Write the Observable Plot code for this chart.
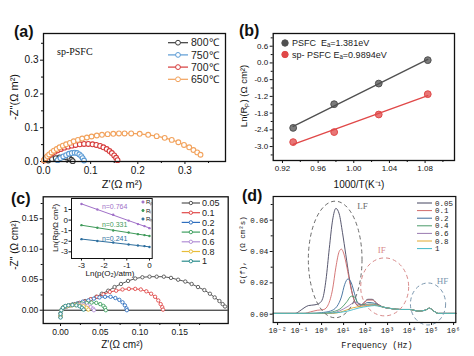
<!DOCTYPE html>
<html><head><meta charset="utf-8">
<script src="https://cdn.jsdelivr.net/npm/d3@7"></script>
<script src="https://cdn.jsdelivr.net/npm/@observablehq/plot@0.6"></script>
<style>
body{margin:0;background:#fff;}
#wrap{position:relative;width:474px;height:356px;overflow:hidden;background:#fff;}
</style></head><body><div id="wrap"></div>
<script>
// ================= DATA =================
// (a) Nyquist, sp-PSFC
const aTemps = ["800℃","750℃","700℃","650℃"];
const aColors = ["#3a3a3a","#5b9bd5","#d63b3b","#f2a25c"];
const a800 = [[0.010,0.003],[0.018,0.007],[0.026,0.010],[0.034,0.012],[0.042,0.013],[0.049,0.012],[0.055,0.009],[0.059,0.005],[0.062,0.001]];
const a750 = [[0.030,0.004],[0.036,0.010],[0.042,0.015],[0.048,0.019],[0.054,0.023],[0.060,0.025],[0.066,0.026],[0.071,0.025],[0.076,0.021],[0.080,0.016],[0.083,0.010],[0.086,0.003]];
const a700 = [[0.001,0.003],[0.004,0.009],[0.008,0.014],[0.013,0.019],[0.018,0.024],[0.024,0.029],[0.030,0.033],[0.037,0.037],[0.044,0.041],[0.052,0.044],[0.060,0.047],[0.068,0.049],[0.077,0.051],[0.086,0.052],[0.095,0.052],[0.104,0.051],[0.112,0.049],[0.120,0.046],[0.127,0.042],[0.134,0.037],[0.140,0.031],[0.145,0.025],[0.150,0.018],[0.154,0.011],[0.157,0.004]];
const a650 = [[0.001,0.004],[0.004,0.010],[0.008,0.016],[0.012,0.021],[0.017,0.027],[0.022,0.032],[0.028,0.037],[0.034,0.042],[0.041,0.047],[0.048,0.051],[0.056,0.055],[0.064,0.060],[0.073,0.064],[0.082,0.068],[0.092,0.071],[0.102,0.074],[0.113,0.077],[0.124,0.079],[0.136,0.081],[0.148,0.082],[0.160,0.083],[0.172,0.083],[0.186,0.083],[0.204,0.082],[0.222,0.079],[0.240,0.075],[0.257,0.070],[0.272,0.064],[0.286,0.057],[0.298,0.049],[0.309,0.042],[0.318,0.034],[0.326,0.027],[0.333,0.020]];
const aXTicks = [0,0.1,0.2,0.3];
const aYTicks = [0,0.1,0.2,0.3];

// (b) Arrhenius
const bInvT = [0.932, 0.978, 1.028, 1.083];
const bPSFC = [-2.33, -1.48, -0.74, 0.10];
const bSp = [-2.84, -2.48, -1.85, -1.12];
const bSeries = ["PSFC","sp-PSFC"];
const bLegend = ["PSFC  Eₐ=1.381eV", "sp- PSFC Eₐ=0.9894eV"];
const bColors = ["#505050","#e04848"];
const bXTicks = [0.92,0.96,1.00,1.04,1.08];
const bYTicks = [-3.0,-2.4,-1.8,-1.2,-0.6,0.0,0.6];

// (c) Nyquist vs pO2
const cP = ["0.05","0.1","0.2","0.4","0.6","0.8","1"];
const cColors = ["#555555","#e04848","#2f6fbf","#3fa060","#b28fd6","#e8bd3a","#2a8c8c"];
const c005 = [[0.0,-0.011],[0.0,-0.005],[0.001,0.0],[0.003,0.004],[0.007,0.006],[0.012,0.008],[0.018,0.010],[0.024,0.012],[0.031,0.015],[0.038,0.018],[0.045,0.022],[0.052,0.027],[0.060,0.032],[0.068,0.038],[0.076,0.043],[0.085,0.048],[0.094,0.052],[0.103,0.054],[0.112,0.055],[0.121,0.055],[0.130,0.055],[0.139,0.053],[0.148,0.050],[0.157,0.047],[0.165,0.043],[0.173,0.038],[0.181,0.033],[0.188,0.027],[0.194,0.021],[0.200,0.015],[0.204,0.010],[0.207,0.006]];
const c01 = [[0.0,-0.010],[0.001,0.0],[0.004,0.005],[0.009,0.007],[0.015,0.009],[0.022,0.011],[0.030,0.014],[0.038,0.018],[0.046,0.022],[0.054,0.026],[0.062,0.030],[0.070,0.032],[0.078,0.034],[0.086,0.035],[0.094,0.035],[0.101,0.034],[0.108,0.031],[0.114,0.027],[0.119,0.022],[0.123,0.016],[0.126,0.010],[0.128,0.005],[0.129,0.001]];
const c02 = [[0.0,-0.010],[0.001,0.0],[0.004,0.005],[0.009,0.007],[0.015,0.009],[0.021,0.011],[0.028,0.014],[0.035,0.016],[0.042,0.019],[0.049,0.021],[0.056,0.022],[0.063,0.022],[0.069,0.020],[0.074,0.017],[0.078,0.013],[0.081,0.008],[0.083,0.003],[0.0835,0.0]];
const c04 = [[0.0,-0.010],[0.001,0.0],[0.004,0.005],[0.009,0.007],[0.015,0.009],[0.021,0.010],[0.027,0.011],[0.033,0.012],[0.039,0.0125],[0.045,0.012],[0.050,0.010],[0.054,0.007],[0.056,0.004],[0.057,0.0]];
const c06 = [[0.0,-0.010],[0.001,0.0],[0.004,0.005],[0.009,0.007],[0.014,0.008],[0.019,0.009],[0.024,0.0095],[0.029,0.009],[0.034,0.0075],[0.038,0.005],[0.041,0.0025],[0.042,0.0]];
const c08 = [[0.0,-0.010],[0.001,0.0],[0.004,0.005],[0.009,0.007],[0.014,0.008],[0.019,0.0085],[0.024,0.008],[0.029,0.0065],[0.033,0.004],[0.035,0.001]];
const c1 = [[0.0,-0.012],[0.0,-0.006],[0.001,0.0],[0.003,0.004],[0.006,0.007],[0.010,0.008],[0.015,0.0085],[0.020,0.008],[0.024,0.0065],[0.027,0.004],[0.029,0.001]];
const cXTicks = [0,0.05,0.10,0.15];
const cYTicks = [0,0.05,0.10,0.15];

// (c) inset: Ln(Rp) vs Ln(pO2)
const insLnP = [-3.0,-2.3,-1.6,-0.92,-0.51,-0.22,0.0];
const insRp = [1.52,1.00,0.50,-0.05,-0.38,-0.57,-0.76];
const insRL = [-0.48,-0.72,-0.98,-1.18,-1.33,-1.42,-1.50];
const insRH = [-1.80,-1.97,-2.12,-2.30,-2.40,-2.46,-2.55];
const insNames = ["Rₚ","Rₗ","Rₕ"];
const insColors = ["#a070c8","#3f9a5a","#2d6e9e"];
const insN = ["n=0.764","n=0.331","n=0.241"];
const insNX = [-2.1,-2.1,-2.1];
const insNY = [1.25,-0.45,-1.75];

// (d) C(f) vs log10 frequency
const dP = ["0.05","0.1","0.2","0.4","0.6","0.8","1"];
const dColors = ["#45455f","#d06a6a","#3a6a9a","#4a9a6a","#9a7ab0","#e0a830","#40b8c8"];
const dTail = [[3.2,0.0035],[3.6,0.003],[4.0,0.003],[4.4,0.002],[4.7,0.0025],[4.9,0.0038],[5.1,0.002],[5.3,0.0005],[6.1,0.0005]];
const d005 = [[-2.2,0.0005],[-1.2,0.0005],[-1.0,0.002],[-0.8,0.004],[-0.6,0.0055],[-0.3,0.006],[-0.1,0.007],[0.05,0.010],[0.2,0.022],[0.35,0.042],[0.5,0.060],[0.65,0.0675],[0.8,0.064],[0.95,0.052],[1.1,0.038],[1.25,0.024],[1.4,0.013],[1.55,0.007],[1.7,0.005],[1.9,0.007],[2.1,0.0095],[2.3,0.0095],[2.5,0.007],[2.8,0.0045]];
const d01 = [[-2.2,0.0005],[-0.8,0.0005],[-0.5,0.0015],[-0.2,0.0025],[0.1,0.003],[0.3,0.006],[0.5,0.016],[0.65,0.030],[0.8,0.040],[0.9,0.0415],[1.0,0.039],[1.15,0.030],[1.3,0.019],[1.45,0.010],[1.6,0.006],[1.8,0.006],[2.1,0.009],[2.3,0.009],[2.5,0.007],[2.8,0.0045]];
const d02 = [[-2.2,0.0005],[-0.5,0.0005],[0.0,0.001],[0.4,0.002],[0.7,0.005],[0.9,0.011],[1.05,0.019],[1.2,0.0225],[1.35,0.020],[1.5,0.013],[1.65,0.007],[1.85,0.006],[2.1,0.0075],[2.4,0.007],[2.7,0.005],[3.0,0.004]];
const d04 = [[-2.2,0.0005],[0.0,0.0005],[0.5,0.0015],[0.9,0.004],[1.15,0.008],[1.35,0.0115],[1.5,0.011],[1.65,0.007],[1.85,0.006],[2.2,0.0065],[2.5,0.006],[2.8,0.0045]];
const d06 = [[-2.2,0.0005],[0.3,0.0005],[0.8,0.002],[1.2,0.005],[1.5,0.0075],[1.7,0.007],[1.9,0.0055],[2.2,0.006],[2.5,0.0058],[2.8,0.0045]];
const d08 = [[-2.2,0.0005],[0.5,0.0005],[1.0,0.002],[1.4,0.004],[1.8,0.005],[2.1,0.0055],[2.4,0.0058],[2.7,0.0048],[3.0,0.004]];
const d1 = [[-2.2,0.0005],[-1.0,0.0005],[0.5,0.0008],[1.2,0.002],[1.7,0.004],[2.1,0.005],[2.4,0.0055],[2.7,0.0048],[3.0,0.004]];
const dXTicks = [-2,-1,0,1,2,3,4,5,6];
const dXLabels = ["10⁻²","10⁻¹","10⁰","10¹","10²","10³","10⁴","10⁵","10⁶"];
const dYTicks = [0,0.02,0.04,0.06];
const dRegionNames = ["LF","IF","HF"];
const dRegionCx = [0.64, 2.89, 4.86];
const dRegionCy = [0.0346, 0.0171, 0.0062];
const dRegionRx = [1.22, 1.09, 0.80];
const dRegionRy = [0.0372, 0.0185, 0.0134];
const dRegionColors = ["#6a6a6a","#d88a8a","#7a96ae"];
const dRegionLabelX = [1.86, 2.73, 5.5];
const dRegionLabelY = [0.0688, 0.0409, 0.0209];

// ================= HELPERS =================
const SANS = "Liberation Sans, Arial, sans-serif";
const SERIF = "Liberation Serif, Times New Roman, serif";
const MONO = "Liberation Mono, Courier New, monospace";
const wrap = document.getElementById("wrap");
function place(svg, left, top) {
  svg.style.position = "absolute";
  svg.style.left = left + "px";
  svg.style.top = top + "px";
  svg.style.overflow = "visible";
  svg.style.background = "transparent";
  wrap.appendChild(svg);
}
function txt(str, x, y, o = {}) {
  return () => {
    const t = d3.create("svg:text").attr("x", x).attr("y", y)
      .attr("font-size", o.size || 10).attr("font-family", o.font || SANS)
      .attr("font-weight", o.weight || "normal").attr("fill", o.fill || "#111")
      .attr("text-anchor", o.anchor || "start");
    if (o.rotate) t.attr("transform", `rotate(${o.rotate},${x},${y})`).attr("dominant-baseline", "middle");
    t.text(str);
    return t.node();
  };
}
function legend(items, colors, o) {
  return () => {
    const g = d3.create("svg:g");
    items.forEach((s, i) => {
      const y = o.y + i * o.step;
      if (o.len) g.append("line").attr("x1", o.x).attr("x2", o.x + o.len).attr("y1", y).attr("y2", y)
        .attr("stroke", colors[i]).attr("stroke-width", o.sw || 1.2);
      if (o.r) g.append("circle").attr("cx", o.x + (o.len || 0) / 2).attr("cy", y).attr("r", o.r)
        .attr("fill", o.fill ? colors[i] : "white").attr("stroke", o.stroke || colors[i]).attr("stroke-width", 1);
      g.append("text").attr("x", o.x + (o.len || 0) + o.gap).attr("y", y).attr("dy", "0.35em")
        .attr("text-anchor", "start")
        .attr("font-size", o.size).attr("font-family", o.font || SANS).attr("fill", "#222").text(s);
    });
    return g.node();
  };
}
const toRows = (arrs, names) => arrs.flatMap((arr, i) => arr.map(([x, y]) => ({s: names[i], x, y})));
const blank = () => "";

// ================= PANEL A =================
const aData = toRows([a800, a750, a700, a650], aTemps);
place(Plot.plot({
  width: 237, height: 200, marginLeft: 43, marginRight: 12, marginTop: 33, marginBottom: 39,
  style: {fontFamily: SANS, fontSize: "10px", color: "#111"},
  x: {domain: [0, 0.386]}, y: {domain: [0, 0.379]},
  color: {domain: aTemps, range: aColors},
  marks: [
    Plot.axisX({ticks: aXTicks, tickFormat: d => d.toFixed(1), tickSize: 3, tickPadding: 2, fontSize: 10, label: null}),
    Plot.axisX({ticks: [0.05, 0.15, 0.25, 0.35], tickSize: 2, tickFormat: blank, label: null}),
    Plot.axisY({ticks: aYTicks, tickFormat: d => d.toFixed(1), tickSize: 3, tickPadding: 2, fontSize: 10, label: null}),
    Plot.axisY({ticks: [0.05, 0.15, 0.25, 0.35], tickSize: 2, tickFormat: blank, label: null}),
    Plot.line(aData, {x: "x", y: "y", z: "s", stroke: "s", strokeWidth: 1.2}),
    Plot.dot(aData, {x: "x", y: "y", stroke: "s", fill: "white", r: 2.4, strokeWidth: 1.1}),
    Plot.frame({stroke: "#111", strokeWidth: 1.3}),
    legend(aTemps, aColors, {x: 168, y: 42.7, step: 12.2, len: 20, r: 2.4, gap: 3, size: 10.5}),
    txt("sp-PSFC", 57, 55, {font: SERIF, size: 10}),
    txt("(a)", 14, 36.5, {size: 16, weight: "bold"}),
    txt("-Z''(Ω m²)", 15, 97, {size: 11, rotate: -90, anchor: "middle"}),
    txt("Z'(Ω m²)", 122, 188, {size: 11, anchor: "middle"})
  ]
}), 0, 0);

// ================= PANEL B =================
const bData = [
  ...bInvT.map((x, i) => ({s: bSeries[0], x, y: bPSFC[i]})),
  ...bInvT.map((x, i) => ({s: bSeries[1], x, y: bSp[i]}))
];
place(Plot.plot({
  width: 237, height: 200, marginLeft: 35.7, marginRight: 20, marginTop: 33, marginBottom: 40,
  style: {fontFamily: SANS, fontSize: "8px", color: "#111"},
  x: {domain: [0.9096, 1.113]}, y: {domain: [-3.5, 1.056]},
  color: {domain: bSeries, range: bColors},
  marks: [
    Plot.axisX({ticks: bXTicks, tickFormat: d => d.toFixed(2), tickSize: 3, tickPadding: 2, fontSize: 8, label: null}),
    Plot.axisX({ticks: [0.94, 0.98, 1.02, 1.06, 1.10], tickSize: 2, tickFormat: blank, label: null}),
    Plot.axisY({ticks: bYTicks, tickFormat: d => d.toFixed(1), tickSize: 3, tickPadding: 2, fontSize: 8, label: null}),
    Plot.axisY({ticks: [-3.3, -2.7, -2.1, -1.5, -0.9, -0.3, 0.3, 0.9], tickSize: 2, tickFormat: blank, label: null}),
    Plot.linearRegressionY(bData, {x: "x", y: "y", z: "s", stroke: "s", ci: 0, strokeWidth: 1.4}),
    Plot.dot(bData, {x: "x", y: "y", fill: "s", stroke: "s", fillOpacity: 0.75, r: 3.4, strokeWidth: 1}),
    Plot.frame({stroke: "#111", strokeWidth: 1.3}),
    legend(bLegend, bColors, {x: 48, y: 43, step: 11.5, len: 0, r: 3.2, fill: true, gap: 7, size: 9}),
    txt("(b)", 2, 36, {size: 16, weight: "bold"}),
    txt("Ln(Rₚ) (Ω cm²)", 7, 96, {size: 9.5, rotate: -90, anchor: "middle"}),
    txt("1000/T(K⁻¹)", 122, 188, {size: 10, anchor: "middle"})
  ]
}), 237, 0);

// ================= PANEL C =================
const cData = toRows([c005, c01, c02, c04, c06, c08, c1], cP);
place(Plot.plot({
  width: 237, height: 178, marginLeft: 42.7, marginRight: 9.3, marginTop: 18.3, marginBottom: 33,
  style: {fontFamily: SANS, fontSize: "8.5px", color: "#111"},
  x: {domain: [-0.0218, 0.211]}, y: {domain: [-0.0218, 0.186]},
  color: {domain: cP, range: cColors},
  marks: [
    Plot.axisX({ticks: cXTicks, tickFormat: d => d.toFixed(2), tickSize: 3, tickPadding: 2, fontSize: 8.5, label: null}),
    Plot.axisX({ticks: [0.025, 0.075, 0.125, 0.175], tickSize: 2, tickFormat: blank, label: null}),
    Plot.axisY({ticks: cYTicks, tickFormat: d => d.toFixed(2), tickSize: 3, tickPadding: 2, fontSize: 8.5, label: null}),
    Plot.axisY({ticks: [0.025, 0.075, 0.125, 0.175], tickSize: 2, tickFormat: blank, label: null}),
    Plot.ruleY([0], {stroke: "#111", strokeWidth: 1}),
    Plot.line(cData, {x: "x", y: "y", z: "s", stroke: "s", strokeWidth: 1}),
    Plot.dot(cData, {x: "x", y: "y", stroke: "s", fill: "white", r: 1.7, strokeWidth: 0.9}),
    Plot.frame({stroke: "#111", strokeWidth: 1.3}),
    legend(cP, cColors, {x: 181.7, y: 25, step: 9.7, len: 18.3, r: 1.7, gap: 2, size: 9}),
    txt("(c)", 11, 26, {size: 16, weight: "bold"}),
    txt("-Z'' (Ω cm²)", 15, 67, {size: 10, rotate: -90, anchor: "middle"}),
    txt("Z'(Ω cm²)", 122, 170, {size: 10, anchor: "middle"})
  ]
}), 0, 178);

// inset
const insData = [
  ...insLnP.map((x, i) => ({s: insNames[0], x, y: insRp[i]})),
  ...insLnP.map((x, i) => ({s: insNames[1], x, y: insRL[i]})),
  ...insLnP.map((x, i) => ({s: insNames[2], x, y: insRH[i]}))
];
place(Plot.plot({
  width: 110, height: 90, marginLeft: 21, marginRight: 8.3, marginTop: 8, marginBottom: 22,
  style: {fontFamily: SANS, fontSize: "8px", color: "#111"},
  x: {domain: [-3.44, 0.12]}, y: {domain: [-3.63, 2.04]},
  color: {domain: insNames, range: insColors},
  marks: [
    Plot.axisX({ticks: [-3, -2, -1, 0], tickFormat: d => String(d), tickSize: 2.5, tickPadding: 1, fontSize: 8, label: null}),
    Plot.axisY({ticks: [-3, -2, -1, 0, 1], tickFormat: d => String(d), tickSize: 2.5, tickPadding: 1, fontSize: 8, label: null}),
    Plot.linearRegressionY(insData, {x: "x", y: "y", z: "s", stroke: "s", ci: 0, strokeWidth: 1}),
    Plot.dot(insData, {x: "x", y: "y", fill: "s", r: 1.2}),
    Plot.text(insN, {x: (d, i) => insNX[i], y: (d, i) => insNY[i], text: d => d, fill: (d, i) => insNames[i], fontSize: 7, textAnchor: "start"}),
    Plot.frame({stroke: "#111", strokeWidth: 1}),
    legend(insNames, insColors, {x: 93, y: 12, step: 8.5, len: 0, r: 1.1, fill: true, gap: 3, size: 6}),
    txt("Ln(Rp/Ω cm²)", 6, 38, {size: 8, rotate: -90, anchor: "middle"}),
    txt("Ln(p(O₂)/atm)", 60, 86, {size: 8, anchor: "middle"})
  ]
}), 50, 190);

// ================= PANEL D =================
const dData = toRows([
  d005.concat(dTail), d01.concat(dTail), d02.concat(dTail), d04.concat(dTail),
  d06.concat(dTail), d08.concat(dTail), d1.concat(dTail)
], dP);
const dRegions = dRegionNames.map((n, i) => ({n, cx: dRegionCx[i], cy: dRegionCy[i], rx: dRegionRx[i], ry: dRegionRy[i], c: dRegionColors[i], lx: dRegionLabelX[i], ly: dRegionLabelY[i]}));
place(Plot.plot({
  width: 237, height: 178, marginLeft: 35.7, marginRight: 18.7, marginTop: 18, marginBottom: 34,
  style: {fontFamily: MONO, fontSize: "7.5px", color: "#111"},
  x: {domain: [-2.2, 6.1]}, y: {domain: [-0.0053, 0.0751]},
  color: {domain: dP, range: dColors},
  marks: [
    Plot.axisX({ticks: dXTicks, tickFormat: (d, i) => dXLabels[i], tickSize: 3, tickPadding: 2, fontSize: 7.5, label: null}),
    Plot.axisY({ticks: dYTicks, tickFormat: d => d.toFixed(2), tickSize: 3, tickPadding: 2, fontSize: 7.5, label: null}),
    Plot.axisY({ticks: [0.01, 0.03, 0.05, 0.07], tickSize: 2, tickFormat: blank, label: null}),
    Plot.line(dData, {x: "x", y: "y", z: "s", stroke: "s", strokeWidth: 0.9, curve: "monotone-x"}),
    (index, scales) => {
      const g = d3.create("svg:g");
      for (const e of dRegions) {
        const cx = scales.x(e.cx), cy = scales.y(e.cy);
        g.append("ellipse").attr("cx", cx).attr("cy", cy)
          .attr("rx", Math.abs(scales.x(e.cx + e.rx) - cx)).attr("ry", Math.abs(scales.y(e.cy + e.ry) - cy))
          .attr("fill", "none").attr("stroke", e.c).attr("stroke-width", 1).attr("stroke-dasharray", "4,3");
      }
      return g.node();
    },
    Plot.text(dRegions, {x: "lx", y: "ly", text: "n", fill: "c", fontFamily: SERIF, fontSize: 9}),
    Plot.frame({stroke: "#111", strokeWidth: 1.2}),
    legend(dP, dColors, {x: 180, y: 25, step: 7.6, len: 15, gap: 3, size: 7.5, font: MONO, sw: 1}),
    txt("(d)", 5, 23, {size: 16, weight: "bold"}),
    txt("C(f),  (Ω cm²s)", 6, 72, {size: 7.5, rotate: -90, anchor: "middle", font: MONO}),
    txt("Frequency (Hz)", 140, 170, {size: 8.5, anchor: "middle", font: MONO})
  ]
}), 237, 178);
</script></body></html>
